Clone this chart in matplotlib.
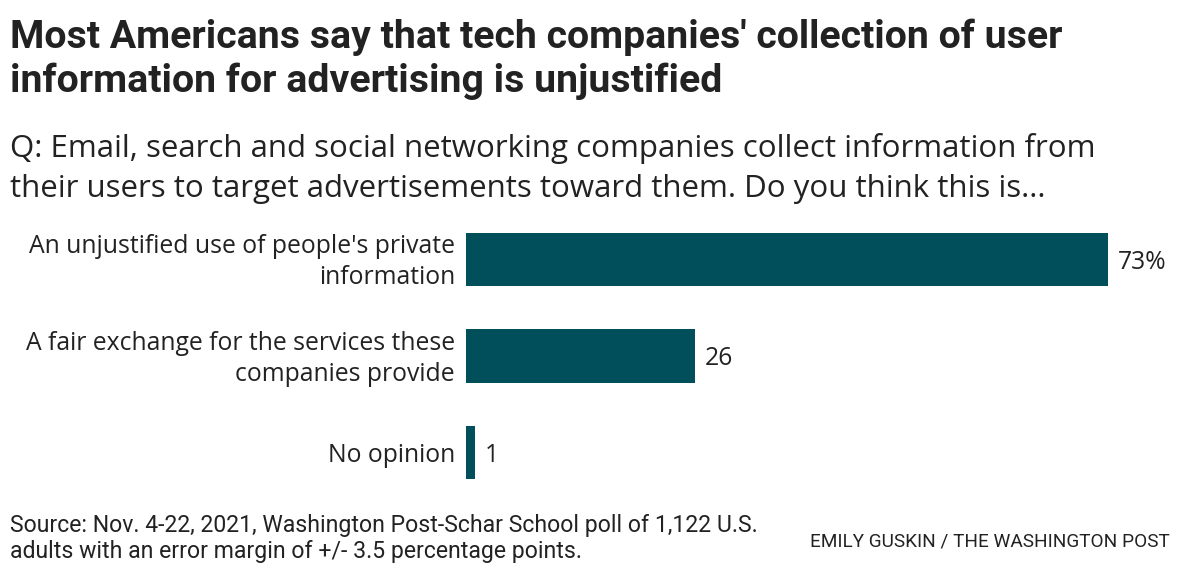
import matplotlib
matplotlib.use("Agg")
import matplotlib.pyplot as plt

categories = ["An unjustified use of people's private\ninformation",
              "A fair exchange for the services these\ncompanies provide",
              "No opinion"]
values = [73, 26, 1]
value_labels = ["73%", "26", "1"]

title_lines = ["Most Americans say that tech companies' collection of user",
               "information for advertising is unjustified"]
subtitle_lines = ["Q: Email, search and social networking companies collect information from",
                  "their users to target advertisements toward them. Do you think this is..."]
source_lines = ["Source: Nov. 4-22, 2021, Washington Post-Schar School poll of 1,122 U.S.",
                "adults with an error margin of +/- 3.5 percentage points."]
credit = "EMILY GUSKIN / THE WASHINGTON POST"

W, H = 1180, 576
fig = plt.figure(figsize=(W/100, H/100), dpi=100)
color = "#004f5a"
txt = "#222222"
body = "Open Sans"

x0, x1 = 466, 1108
c0, c2 = 259.5, 452.5
unit = (c2 - c0) / 2
ytop = c0 - 0.6 * unit
ybot = c2 + 0.6 * unit
ax = fig.add_axes([x0 / W, 1 - ybot / H, (x1 - x0) / W, (ybot - ytop) / H])
ypos = list(range(len(values)))
ax.barh(ypos, values, height=0.55, color=color)
ax.set_xlim(0, max(values))
ax.set_ylim(2.6, -0.6)
ax.axis("off")

for y, v, lab, cat in zip(ypos, values, value_labels, categories):
    ax.annotate(lab, (v, y), xytext=(7, -2), textcoords="offset points",
                va="center", ha="left", fontsize=17.8, color=txt, family=body)
    ax.annotate(cat, (0, y), xytext=(-8, -2), textcoords="offset points",
                va="center", ha="right", fontsize=17.8, color=txt, family=body,
                linespacing=1.32)

def line(x, ybase, s, **kw):
    fig.text(x / W, 1 - ybase / H, s, va="baseline", color=txt, **kw)

for yb, s in zip([48, 92], title_lines):
    line(10, yb, s, fontsize=28.3, fontweight="bold", family="Roboto", ha="left")
for yb, s in zip([157, 197], subtitle_lines):
    line(10, yb, s, fontsize=22.5, family=body, ha="left")
for yb, s in zip([532, 558], source_lines):
    line(10, yb, s, fontsize=16.6, family="Roboto", ha="left")
line(1170, 546, credit, fontsize=13.7, family="Roboto", ha="right")

fig.savefig("out.png", dpi=100, facecolor="white")
